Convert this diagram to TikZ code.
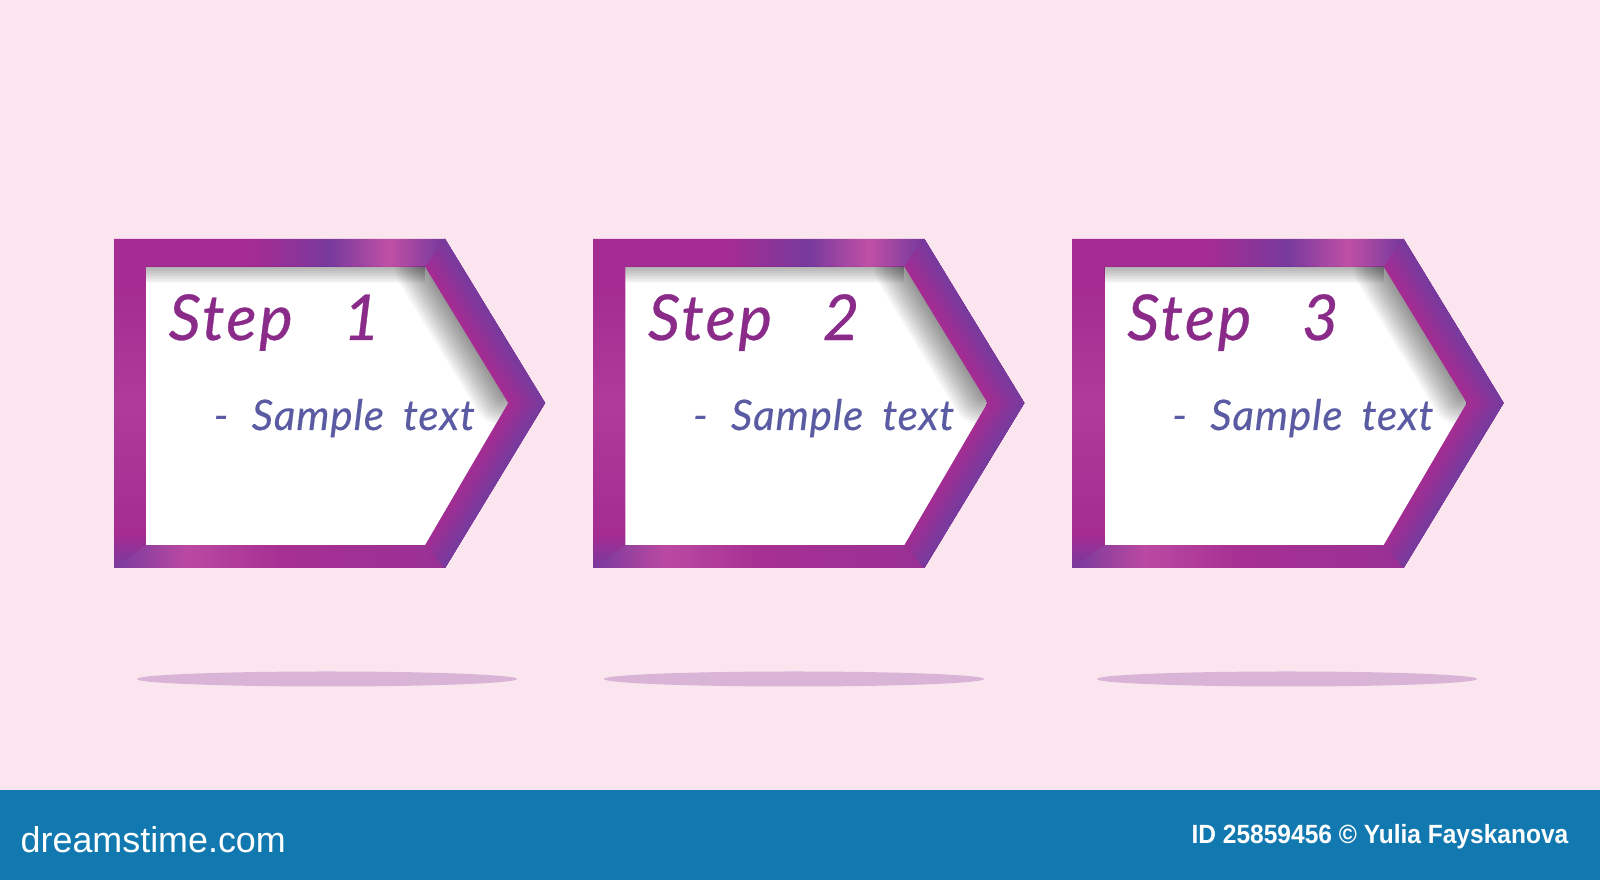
\documentclass[tikz,border=0pt]{standalone}
\usepackage{fontspec}
\setmainfont{Lato}
\newfontfamily\stepfont[LetterSpace=4, FakeBold=0.5]{Lato}
\newfontfamily\samplefont[LetterSpace=2, FakeBold=0.3]{Lato}
\newfontfamily\idfont[FakeStretch=0.93]{Liberation Sans}
\newfontfamily\sitefont{Liberation Sans}
\usetikzlibrary{positioning}
\definecolor{bgpink}{HTML}{FBE6F0}
\definecolor{fmag}{HTML}{A42C92}
\definecolor{fviol}{HTML}{783A9D}
\definecolor{fpink}{HTML}{C050A5}
\definecolor{steptxt}{HTML}{8A2B8A}
\definecolor{sampletxt}{HTML}{5A5BA3}
\definecolor{floorshade}{HTML}{D9B4D6}
\definecolor{bandblue}{HTML}{1278B0}
\pgfdeclarehorizontalshading{topfill}{100bp}{color(0bp)=(fmag); color(25bp)=(fmag); color(41bp)=(fmag); color(50bp)=(fviol); color(57bp)=(fpink); color(63bp)=(fviol); color(75bp)=(fviol); color(100bp)=(fviol)}
\pgfdeclarehorizontalshading{bottomfill}{100bp}{color(0bp)=(fviol); color(25bp)=(fviol); color(36bp)=(fpink!80!fmag); color(50bp)=(fmag!90!fpink); color(75bp)=(fmag!75!fviol); color(100bp)=(fmag!75!fviol)}
\pgfdeclareverticalshading{leftfill}{100bp}{color(0bp)=(fviol); color(25bp)=(fviol); color(30bp)=(fmag); color(50bp)=(fmag!60!fpink); color(68bp)=(fmag); color(75bp)=(fmag); color(100bp)=(fmag)}

\begin{document}
\begin{tikzpicture}[x=0.01cm, y=-0.01cm, node distance=4.79cm,
  step label/.style={font=\stepfont\itshape\fontsize{18}{18}\selectfont, text=steptxt},
  sample label/.style={font=\samplefont\itshape\fontsize{12}{12}\selectfont, text=sampletxt}]
  \tikzstyle{every node}=[inner sep=0pt]

  % background and bottom band
  \fill[bgpink] (0,0) rectangle (1600,880);
  \fill[bandblue] (0,790) rectangle (1600,880);

  % shadows on the floor
  \foreach \cx in {327,794,1287}
    \fill[floorshade] (\cx,679) ellipse [x radius=1.9cm, y radius=0.075cm];

  % arrow frames
  \foreach \i in {0,1,2} {
    \begin{scope}[xshift=\i*4.79cm]
      \shade[shading=topfill] (114,239) -- (445,239) -- (545,403) -- (445,568) -- (114,568) -- cycle;
      \shade[shading=leftfill] (114,239) -- (146,267) -- (146,545) -- (114,568) -- cycle;
      \shade[shading=bottomfill] (114,568) -- (146,545) -- (425,545) -- (445,568) -- cycle;
      % arrow head band: violet outside, magenta inside
      \begin{scope}
        \clip (425,267) -- (445,239) -- (545,403) -- (445,568) -- (425,545) -- (508,403) -- cycle;
        \foreach \k in {0,...,7} {
          \pgfmathtruncatemacro\pct{\k*14}
          \pgfmathsetmacro\lw{6.4-0.8*\k}
          \draw[fviol!\pct!fmag, line width=\lw mm] (445,239) -- (545,403) -- (445,568);
        }
      \end{scope}
      % white panel with inner shadow
      \begin{scope}
        \clip (146,267) -- (425,267) -- (508,403) -- (425,545) -- (146,545) -- cycle;
        \fill[white] (146,267) rectangle (508,545);
        \foreach \w in {0.4,0.8,...,3.6}
          \draw[black, opacity=0.04, line width=\w mm] (130,267) -- (425,267);
        \foreach \w in {0.5,1,...,6}
          \draw[black, opacity=0.04, line width=\w mm, line cap=round] (425,267) -- (503,395);
      \end{scope}
    \end{scope}
  }

  \node[step label, anchor=base west] (1) at (168,340) {Step\hspace{0.8em}1};
  \node[step label] (2) [right of=1] {Step\hspace{0.8em}2};
  \node[step label] (3) [right of=2] {Step\hspace{0.8em}3};

  \node[sample label, anchor=base west] (1a) at (213,430) {-\hspace{0.55em}Sample\hspace{0.45em}text};
  \node[sample label] (2a) [right of=1a] {-\hspace{0.55em}Sample\hspace{0.45em}text};
  \node[sample label] (3a) [right of=2a] {-\hspace{0.55em}Sample\hspace{0.45em}text};

  \node[font=\sitefont\fontsize{10.2}{11}\selectfont, text=white, anchor=base west] (site) at (20,853) {dreamstime.com};
  \node[font=\idfont\bfseries\fontsize{7.5}{8}\selectfont, text=white, anchor=base east] (id) at (1569,844) {ID 25859456 \textcopyright{} Yulia Fayskanova};
\end{tikzpicture}
\end{document}
